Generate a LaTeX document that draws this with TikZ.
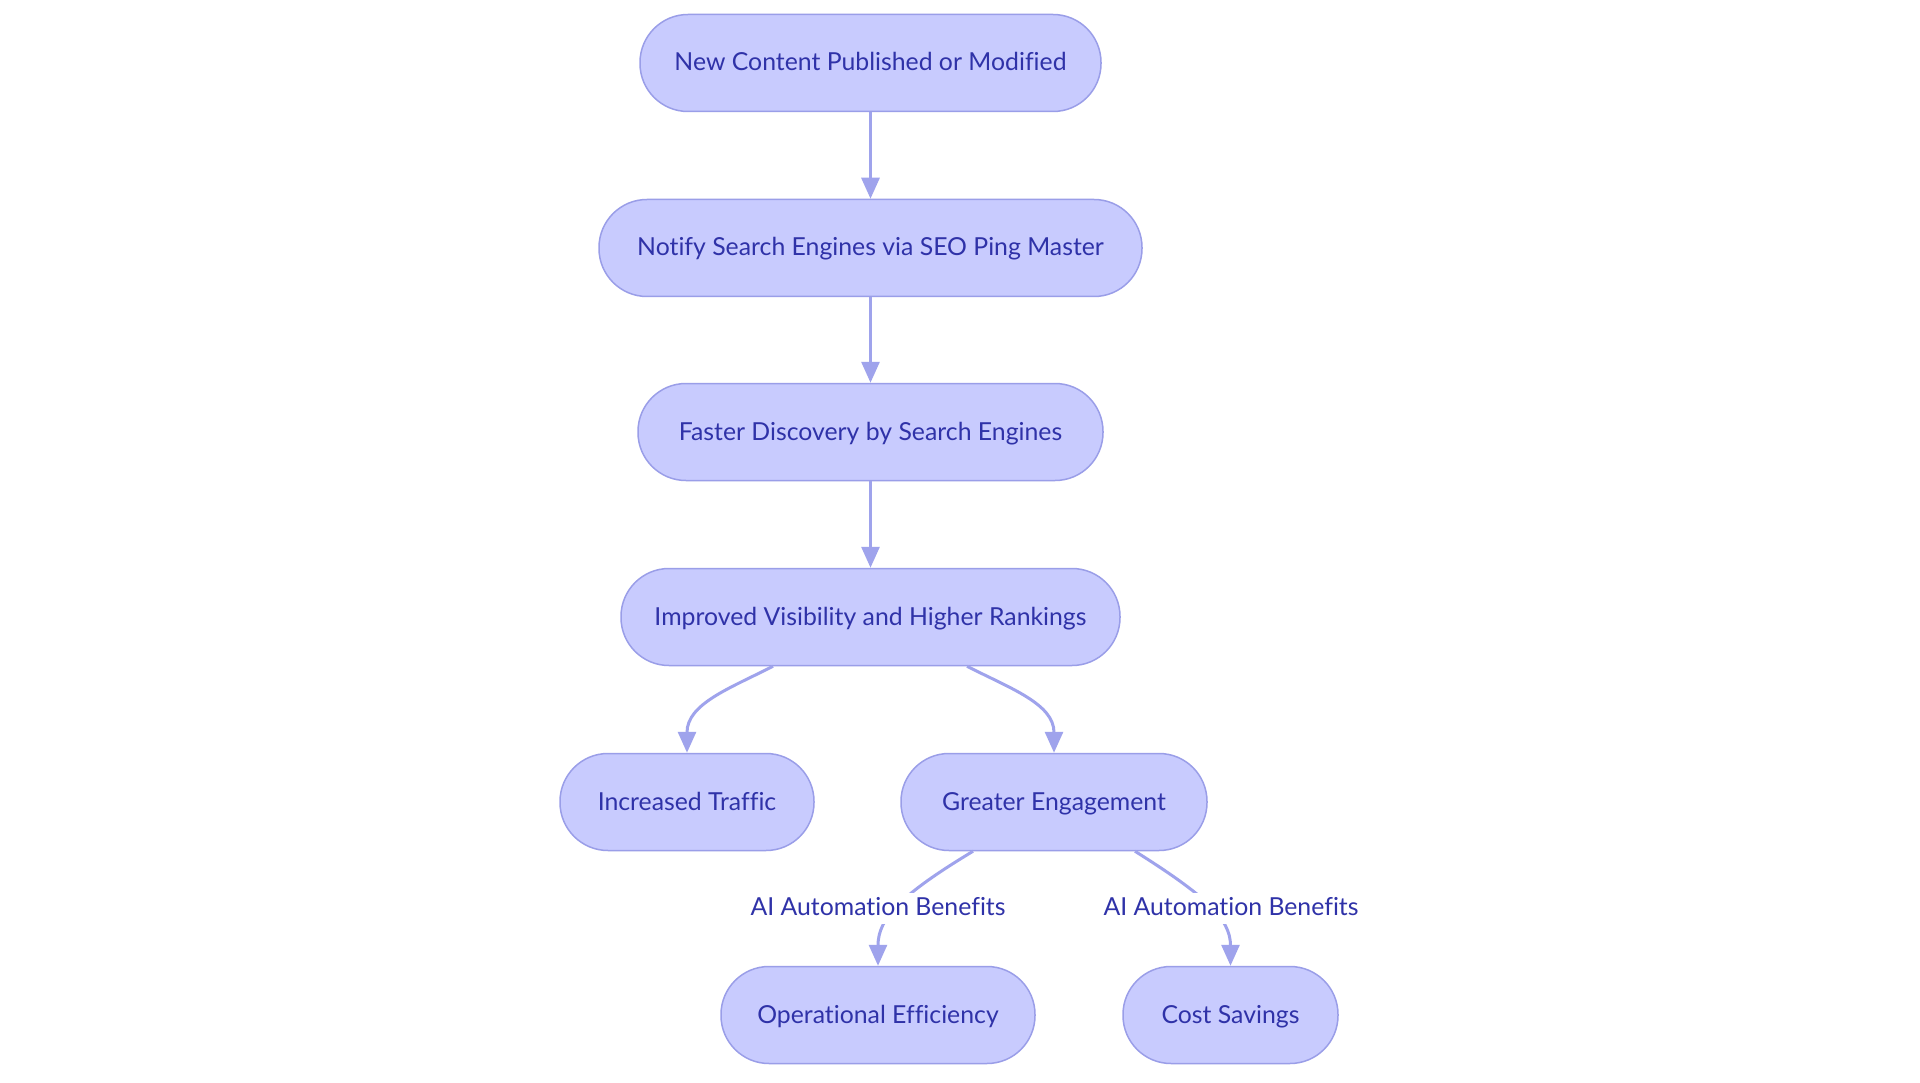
\documentclass[tikz,border=0pt]{standalone}
\usepackage{fontspec}
\setmainfont[Ligatures=NoCommon]{Lato}
\usetikzlibrary{arrows.meta}
\definecolor{nodefill}{HTML}{C8CBFE}
\definecolor{nodeline}{HTML}{9A9EE8}
\definecolor{txt}{HTML}{2F32A8}
\definecolor{edgecol}{HTML}{9FA3EC}
\begin{document}
\begin{tikzpicture}[x=1pt,y=-1pt,
  box/.style={draw=nodeline, line width=1.5pt, fill=nodefill, rounded corners=48pt,
    minimum height=97pt, text=txt, font=\fontsize{24.8}{29}\selectfont, inner xsep=0pt,
    text height=20pt, text depth=4pt},
  conn/.style={draw=edgecol, line width=3pt, -{Triangle[length=21pt,width=18pt]}},
  lbl/.style={fill=white, text=txt, font=\fontsize{24.8}{29}\selectfont, inner sep=3pt,
    text height=20pt, text depth=5pt}]
\useasboundingbox[fill=white] (0,0) rectangle (1920,1083);
\node[box, minimum width=461pt] (n1) at (870.5,63) {New Content Published or Modified};
\node[box, minimum width=543pt] (n2) at (870.5,248) {Notify Search Engines via SEO Ping Master};
\node[box, minimum width=465pt] (n3) at (870.5,432) {Faster Discovery by Search Engines};
\node[box, minimum width=499pt] (n4) at (870.5,617) {Improved Visibility and Higher Rankings};
\node[box, minimum width=254pt] (n5) at (687,802) {Increased Traffic};
\node[box, minimum width=306pt] (n6) at (1054,802) {Greater Engagement};
\node[box, minimum width=314pt] (n7) at (878,1015) {Operational Efficiency};
\node[box, minimum width=215pt] (n8) at (1230.5,1015) {Cost Savings};
\draw[conn] (n1.south) -- (n2.north);
\draw[conn] (n2.south) -- (n3.north);
\draw[conn] (n3.south) -- (n4.north);
\draw[conn] ([xshift=-97.5pt]n4.south) .. controls +(-43,22) and +(0,-49) .. (n5.north);
\draw[conn] ([xshift=96.5pt]n4.south) .. controls +(43,22) and +(0,-49) .. (n6.north);
\draw[conn] ([xshift=-81pt]n6.south) .. controls +(-73,44) and +(0,-47) .. (n7.north);
\draw[conn] ([xshift=81pt]n6.south) .. controls +(70,44) and +(0,-47) .. (n8.north);
\node[lbl] (l1) at (878,908) {AI Automation Benefits};
\node[lbl] (l2) at (1231,908) {AI Automation Benefits};
\end{tikzpicture}
\end{document}
